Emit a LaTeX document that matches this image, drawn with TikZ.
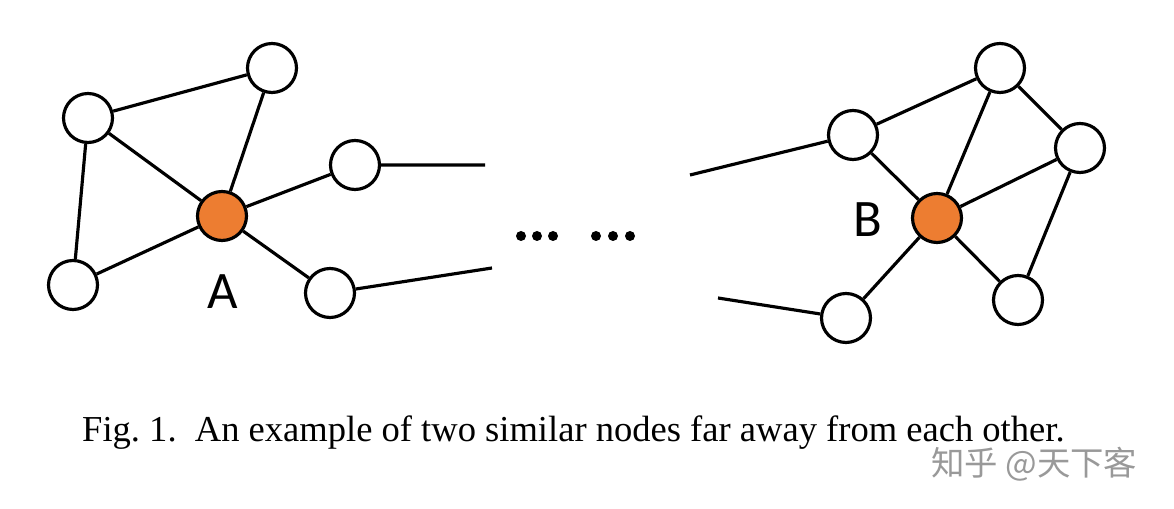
\documentclass[tikz,border=0pt]{standalone}
\usepackage{fontspec}
\setmainfont{Liberation Serif}
\newfontfamily\lblfont{Carlito}
\newfontfamily\cjkfont{Noto Sans CJK SC}
\definecolor{orangeA}{HTML}{ED7D31}
\begin{document}
\begin{tikzpicture}[x=0.02cm,y=-0.02cm,
  nd/.style={circle,draw=black,line width=1.8pt,fill=white,minimum size=0.98cm,inner sep=0pt},
  hub/.style={nd,fill=orangeA},
  ln/.style={line width=1.8pt},
  lbl/.style={font=\lblfont\fontsize{30}{32}\selectfont},
  dotc/.style={fill=black}]
\useasboundingbox (0,0) rectangle (1174,509);
\node[nd] (n1) at (88,118) {};
\node[nd] (n2) at (272,68) {};
\node[nd] (n3) at (355,165) {};
\node[hub] (A) at (222,216) {};
\node[nd] (n4) at (73,285) {};
\node[nd] (n5) at (330,293) {};
\coordinate (f1) at (485,165);
\coordinate (f2) at (492,268);
\draw[ln] (n1)--(n2) (n1)--(A) (n1)--(n4) (n2)--(A) (A)--(n3) (A)--(n4) (A)--(n5) (n3)--(f1) (n5)--(f2);
\node[lbl] (la) at (223,292) {A};
\node[nd] (m1) at (853,135) {};
\node[nd] (m2) at (1000,68) {};
\node[nd] (m3) at (1080,148) {};
\node[hub] (B) at (937,218) {};
\node[nd] (m4) at (1018,300) {};
\node[nd] (m5) at (846,318) {};
\coordinate (g1) at (690,175);
\coordinate (g2) at (718,298);
\draw[ln] (m1)--(m2) (m1)--(B) (m2)--(B) (m2)--(m3) (m3)--(B) (m3)--(m4) (B)--(m4) (B)--(m5) (g1)--(m1) (g2)--(m5);
\node[lbl] (lb) at (868,220) {B};
\foreach \x in {521,537,553,596,613,630} \fill[dotc] (\x,236) circle (0.1cm);
\node[font=\fontsize{20.8}{25}\selectfont,anchor=west] (cap) at (76,433) {Fig.~1.\ \ An example of two similar nodes far away from each other.};
\node[font=\cjkfont\fontsize{19}{22}\selectfont,text=black!40,anchor=west] (wm) at (925,464) {知乎 @天下客};
\end{tikzpicture}
\end{document}
